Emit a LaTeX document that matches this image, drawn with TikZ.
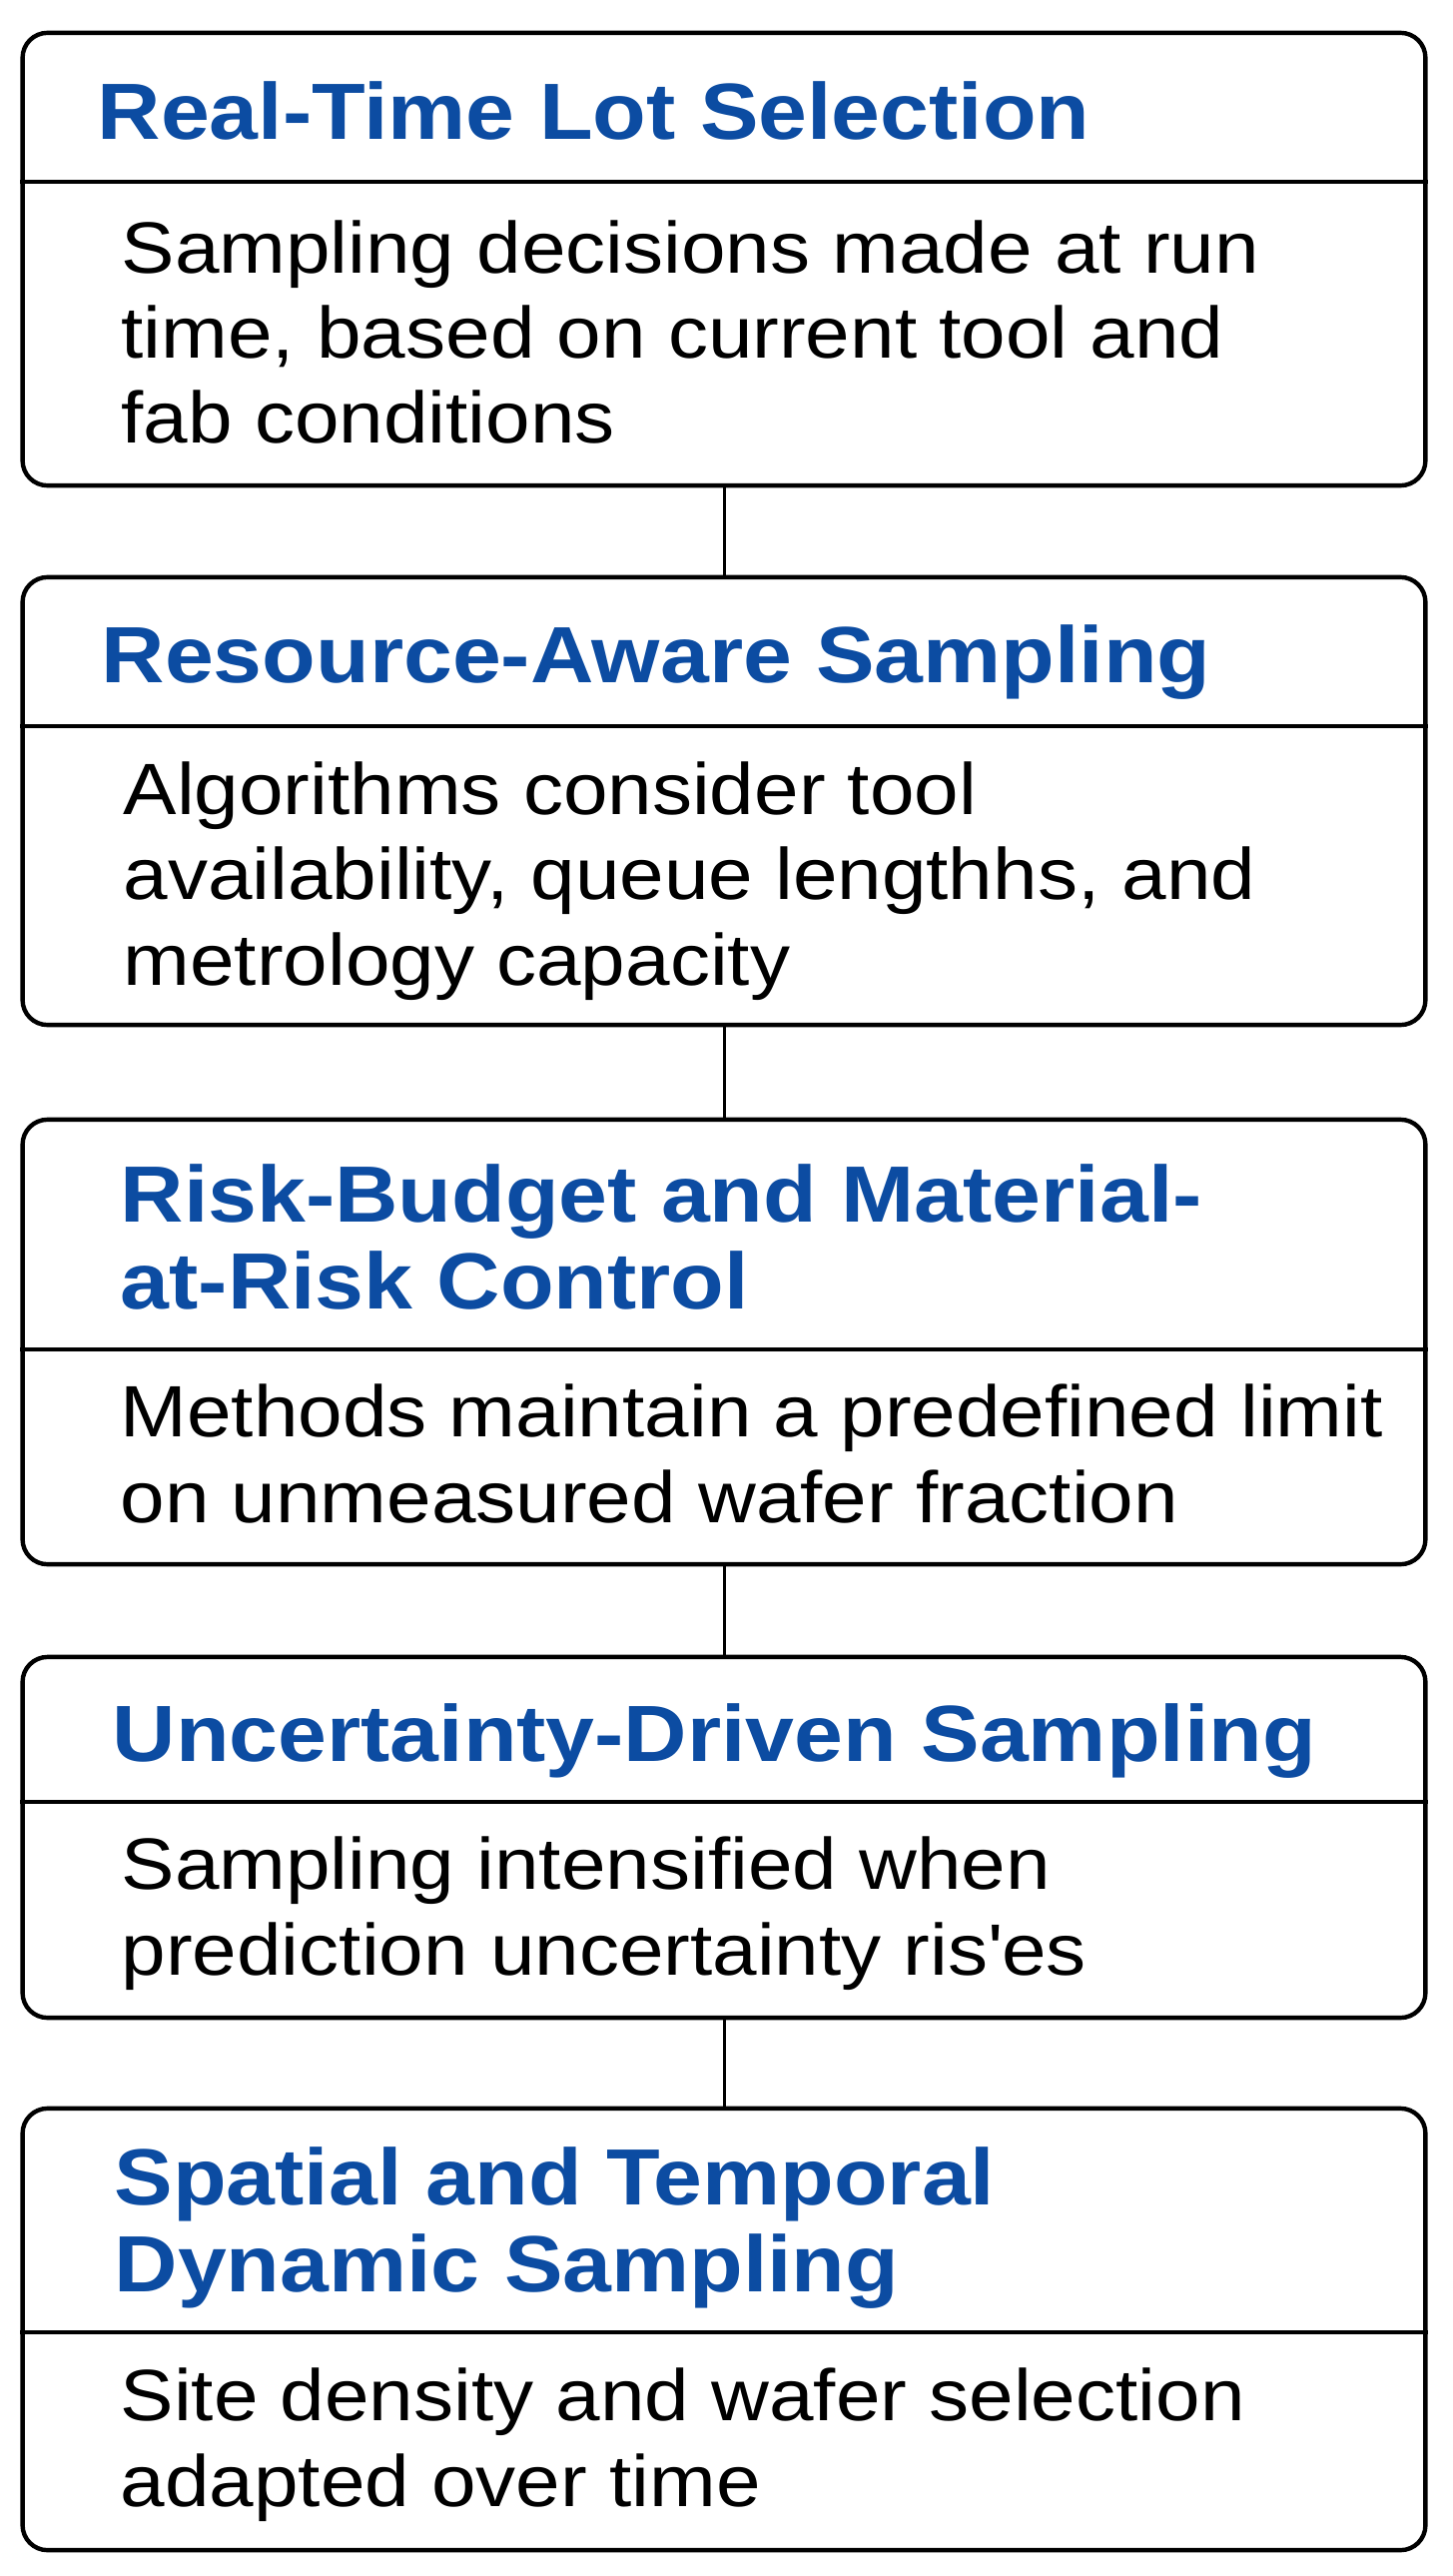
\documentclass[tikz,border=0pt]{standalone}
\usepackage{fontspec}
\setmainfont{Liberation Sans}[FakeStretch=1.1]
\usepackage{xcolor}

\definecolor{stepblue}{RGB}{12,76,162}

\tikzset{
  stepbox/.style={draw=black, line width=1.25pt, rounded corners=0.25cm,
    minimum width=14.04cm, inner sep=0pt},
  steptitle/.style={anchor=base west, inner sep=0pt, align=left,
    text=stepblue, font=\fontsize{22.7pt}{24.6pt}\selectfont\bfseries},
  steptext/.style={anchor=base west, inner sep=0pt, align=left,
    font=\fontsize{20.7pt}{24.2pt}\selectfont},
  splitline/.style={line width=1.1pt},
  link/.style={line width=0.85pt}
}

\begin{document}
\begin{tikzpicture}[x=0.01cm, y=-0.01cm]
  \fill[white] (0,0) rectangle (1455,2579);
  \useasboundingbox (0,0) rectangle (1455,2579);

  % the five boxes
  \node[stepbox, minimum height=4.53cm] (s1) at (725,259.5) {};
  \node[stepbox, minimum height=4.48cm] (s2) at (725,802) {};
  \node[stepbox, minimum height=4.45cm] (s3) at (725,1343.5) {};
  \node[stepbox, minimum height=3.61cm] (s4) at (725,1839.5) {};
  \node[stepbox, minimum height=4.42cm] (s5) at (725,2332) {};

  % header rules
  \draw[splitline] (s1.west |- 0,182) -- (s1.east |- 0,182);
  \draw[splitline] (s2.west |- 0,727) -- (s2.east |- 0,727);
  \draw[splitline] (s3.west |- 0,1351) -- (s3.east |- 0,1351);
  \draw[splitline] (s4.west |- 0,1804) -- (s4.east |- 0,1804);
  \draw[splitline] (s5.west |- 0,2335) -- (s5.east |- 0,2335);

  % titles (placed at the baseline of their last line)
  \node[steptitle] (t1) at (97,140) {Real-Time Lot Selection};
  \node[steptitle] (t2) at (101,683) {Resource-Aware Sampling};
  \node[steptitle] (t3) at (120,1310) {Risk-Budget and Material-\\at-Risk Control};
  \node[steptitle] (t4) at (112,1763) {Uncertainty-Driven Sampling};
  \node[steptitle] (t5) at (114,2294) {Spatial and Temporal\\Dynamic Sampling};

  % descriptions
  \node[steptext] (d1) at (121,444) {Sampling decisions made at run\\time, based on current tool and\\fab conditions};
  \node[steptext] (d2) at (123,986) {Algorithms consider tool\\availability, queue lengthhs, and\\metrology capacity};
  \node[steptext] (d3) at (120,1524) {Methods maintain a predefined limit\\on unmeasured wafer fraction};
  \node[steptext] (d4) at (121,1977) {Sampling intensified when\\prediction uncertainty ris\textquotesingle es};
  \node[steptext] (d5) at (120,2509) {Site density and wafer selection\\adapted over time};

  % links
  \draw[link] (s1) -- (s2);
  \draw[link] (s2) -- (s3);
  \draw[link] (s3) -- (s4);
  \draw[link] (s4) -- (s5);
\end{tikzpicture}
\end{document}
